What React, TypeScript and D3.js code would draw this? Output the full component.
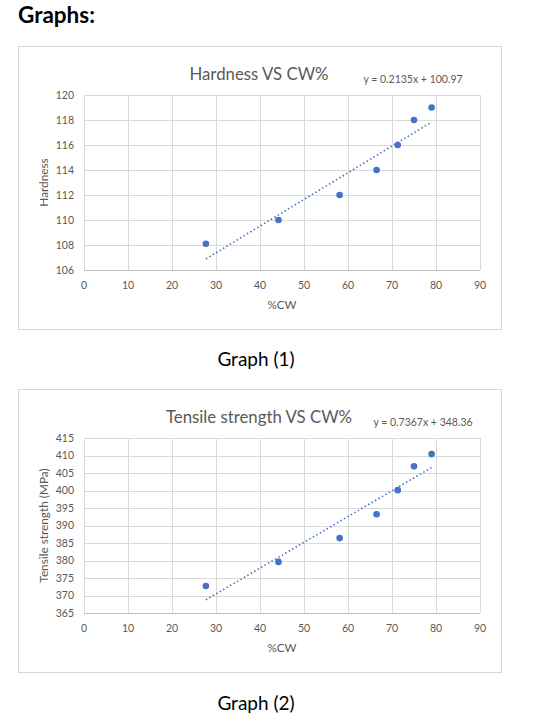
import React from "react";
import * as d3 from "d3";

const cwPercent = [27.7, 44.2, 58.1, 66.5, 71.3, 75.0, 79.0];
const hardness = [108.1, 110.0, 112.0, 114.0, 116.0, 118.0, 119.0];
const tensile = [372.7, 379.6, 386.4, 393.2, 400.1, 406.9, 410.4];
const xTicks = [0, 10, 20, 30, 40, 50, 60, 70, 80, 90];
const hardnessTicks = [106, 108, 110, 112, 114, 116, 118, 120];
const tensileTicks = [365, 370, 375, 380, 385, 390, 395, 400, 405, 410, 415];
const hardnessFit = { slope: 0.2135, intercept: 100.97 };
const tensileFit = { slope: 0.7367, intercept: 348.36 };

const FONT = "Lato, 'Open Sans', 'Noto Sans', sans-serif";
const TEXT = "#595959";
const GRID = "#d9d9d9";
const BLUE = "#4472c4";

type ChartProps = {
  top: number;
  title: string;
  yLabel: string;
  yValues: number[];
  yTicks: number[];
  fit: { slope: number; intercept: number };
  eqText: string;
  eqX: number;
};

function Chart({ top, title, yLabel, yValues, yTicks, fit, eqText, eqX }: ChartProps) {
  const boxLeft = 18;
  const boxRight = 501;
  const boxTop = top;
  const boxBottom = top + 283;
  const plotTop = top + 49;
  const plotBottom = top + 224;
  const x = d3.scaleLinear().domain([xTicks[0], xTicks[xTicks.length - 1]]).range([84, 480]);
  const y = d3
    .scaleLinear()
    .domain([yTicks[0], yTicks[yTicks.length - 1]])
    .range([plotBottom, plotTop]);
  const xMin = d3.min(cwPercent) as number;
  const xMax = d3.max(cwPercent) as number;
  const fitLine = d3
    .line<number>()
    .x((d) => x(d))
    .y((d) => y(fit.slope * d + fit.intercept));
  return (
    <g>
      <rect
        x={boxLeft + 0.5}
        y={boxTop + 0.5}
        width={boxRight - boxLeft}
        height={boxBottom - boxTop}
        fill="#fff"
        stroke={GRID}
        strokeWidth={1}
      />
      <text x={259} y={top + 33.5} textAnchor="middle" fontSize={16.8} fill={TEXT} fontFamily={FONT}>
        {title}
      </text>
      <text x={eqX} y={top + 36.5} textAnchor="middle" fontSize={10.5} fill={TEXT} fontFamily={FONT}>
        {eqText}
      </text>
      {yTicks.map((t) => (
        <line key={"gy" + t} x1={84} x2={480} y1={Math.round(y(t)) + 0.5} y2={Math.round(y(t)) + 0.5} stroke={GRID} />
      ))}
      {xTicks.map((t) => (
        <line key={"gx" + t} x1={Math.round(x(t)) + 0.5} x2={Math.round(x(t)) + 0.5} y1={plotTop} y2={plotBottom} stroke={GRID} />
      ))}
      <line x1={84} x2={480} y1={Math.round(plotBottom) + 0.5} y2={Math.round(plotBottom) + 0.5} stroke="#bfbfbf" />
      {yTicks.map((t) => (
        <text
          key={"ty" + t}
          x={74}
          y={y(t)}
          dy="0.35em"
          textAnchor="end"
          fontSize={10.5}
          fill={TEXT}
          fontFamily={FONT}
        >
          {t}
        </text>
      ))}
      {xTicks.map((t) => (
        <text
          key={"tx" + t}
          x={x(t)}
          y={plotBottom + 15}
          dy="0.35em"
          textAnchor="middle"
          fontSize={10.5}
          fill={TEXT}
          fontFamily={FONT}
        >
          {t}
        </text>
      ))}
      <text x={282} y={plotBottom + 35} dy="0.35em" textAnchor="middle" fontSize={11.5} fill={TEXT} fontFamily={FONT}>
        %CW
      </text>
      <text
        transform={`translate(44,${(plotTop + plotBottom) / 2}) rotate(-90)`}
        dy="0.35em"
        textAnchor="middle"
        fontSize={11.8}
        fill={TEXT}
        fontFamily={FONT}
      >
        {yLabel}
      </text>
      <path
        d={fitLine([xMin, xMax]) || ""}
        fill="none"
        stroke={BLUE}
        strokeWidth={1.6}
        strokeDasharray="1.5 2.5"
        strokeLinecap="butt"
      />
      {cwPercent.map((cx, i) => (
        <circle key={"p" + i} cx={x(cx)} cy={y(yValues[i])} r={3.3} fill={BLUE} />
      ))}
    </g>
  );
}

export default function App() {
  return (
    <svg
      width={547}
      height={725}
      style={{ position: "absolute", left: 0, top: 0, background: "#fff" }}
    >
      <rect width={547} height={725} fill="#fff" />
      <text x={18} y={23} fontSize={22.5} fontWeight="bold" fill="#000" fontFamily={FONT}>
        Graphs:
      </text>
      <Chart
        top={46}
        title="Hardness VS CW%"
        yLabel="Hardness"
        yValues={hardness}
        yTicks={hardnessTicks}
        fit={hardnessFit}
        eqText="y = 0.2135x + 100.97"
        eqX={413}
      />
      <text x={256} y={366} textAnchor="middle" fontSize={19} fill="#000" fontFamily={FONT}>
        Graph (1)
      </text>
      <Chart
        top={389}
        title="Tensile strength VS CW%"
        yLabel="Tensile strength (MPa)"
        yValues={tensile}
        yTicks={tensileTicks}
        fit={tensileFit}
        eqText="y = 0.7367x + 348.36"
        eqX={423}
      />
      <text x={256} y={710} textAnchor="middle" fontSize={19} fill="#000" fontFamily={FONT}>
        Graph (2)
      </text>
    </svg>
  );
}
